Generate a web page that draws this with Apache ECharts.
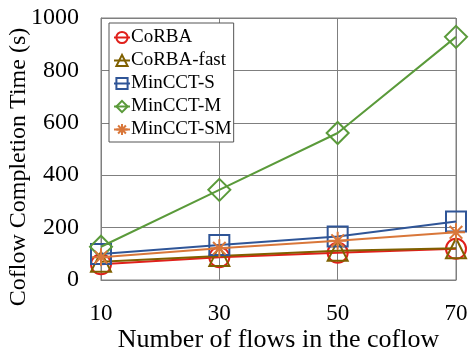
<!DOCTYPE html>
<html><head><meta charset="utf-8">
<script src="https://cdn.jsdelivr.net/npm/echarts@6/dist/echarts.min.js"></script>
<style>html,body{margin:0;padding:0;background:#fff}#c{width:474px;height:355px}</style>
</head><body><div id="c"></div>
<script>
const flows = [10, 30, 50, 70];
const yTicks = [0, 200, 400, 600, 800, 1000];
const seriesNames = ['CoRBA', 'CoRBA-fast', 'MinCCT-S', 'MinCCT-M', 'MinCCT-SM'];
const corba = [60, 87, 104, 119];
const corbaFast = [70, 92, 112, 121];
const minS = [99, 134, 166, 223];
const minM = [127, 344, 561, 928];
const minSM = [87, 121, 150, 182];

const colors = ['#E0201B', '#7F6000', '#2F5597', '#5A9A3A', '#D9773A'];
const star = 'path://M0,-10L0,10M-10,0L10,0M-7,-7L7,7M-7,7L7,-7';
const symbols = ['circle', 'triangle', 'rect', 'diamond', star];
const sizes = [20, 20, 20, 22, 18];
const data = [corba, corbaFast, minS, minM, minSM];
const font = 'Liberation Serif';

const order = [3, 2, 4, 1, 0];
const series = order.map(i => ({
  name: seriesNames[i],
  type: 'line',
  data: flows.map((f, k) => [f, data[i][k]]),
  symbol: symbols[i],
  symbolSize: sizes[i],
  lineStyle: { color: colors[i], width: 2 },
  itemStyle: { color: 'rgba(0,0,0,0)', borderColor: colors[i], borderWidth: 2 },
  z: 2 + i
}));

const chart = echarts.init(document.getElementById('c'));
chart.setOption({
  animation: false,
  grid: { left: 101, right: 18, top: 18, bottom: 75, show: true, borderColor: '#7f7f7f', borderWidth: 1,
    containLabel: false, outerBoundsMode: 'none' },
  legend: {
    data: seriesNames,
    orient: 'vertical', left: 109, top: 23,
    backgroundColor: '#fff', borderColor: '#555', borderWidth: 1,
    padding: [5, 2, 3, 4], itemGap: 4, itemWidth: 16, itemHeight: 14,
    textStyle: { fontFamily: font, fontSize: 19, color: '#000', padding: [0, 0, 0, -4] }
  },
  xAxis: {
    type: 'value', min: 10, max: 70, interval: 20,
    name: 'Number of flows in the coflow', nameLocation: 'middle', nameGap: 47, nameMoveOverlap: false,
    nameTextStyle: { fontFamily: font, fontSize: 26, color: '#000' },
    axisLine: { lineStyle: { color: '#7f7f7f' } }, axisTick: { show: false },
    axisLabel: { fontFamily: font, fontSize: 23, color: '#000', margin: 22 },
    splitLine: { lineStyle: { color: '#7f7f7f', width: 1 } }
  },
  yAxis: {
    type: 'value', min: 0, max: 1000, interval: 200,
    name: 'Coflow Completion Time (s)', nameLocation: 'middle', nameGap: 70, nameMoveOverlap: false,
    nameTextStyle: { fontFamily: font, fontSize: 24, color: '#000', padding: [0, 36, 0, 0] },
    axisLine: { show: true, lineStyle: { color: '#7f7f7f' } }, axisTick: { show: false },
    axisLabel: { fontFamily: font, fontSize: 24, color: '#000', margin: 22,
      formatter: v => yTicks.includes(v) ? String(v) : '' },
    splitLine: { lineStyle: { color: '#7f7f7f', width: 1 } }
  },
  series
});
</script></body></html>
